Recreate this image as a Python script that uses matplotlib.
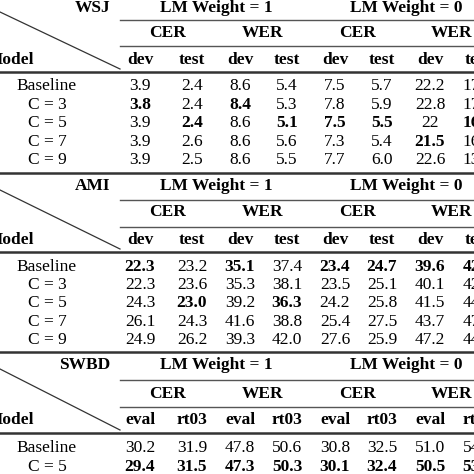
import matplotlib.pyplot as plt

plt.rcParams['font.family'] = ['Liberation Serif', 'DejaVu Serif']

models = ['Baseline', 'C = 3', 'C = 5', 'C = 7', 'C = 9']
wsj = [[3.9, 2.4, 8.6, 5.4, 7.5, 5.7, 22.2, 17.7],
       [3.8, 2.4, 8.4, 5.3, 7.8, 5.9, 22.8, 17.8],
       [3.9, 2.4, 8.6, 5.1, 7.5, 5.5, 22, 16.9],
       [3.9, 2.6, 8.6, 5.6, 7.3, 5.4, 21.5, 16.4],
       [3.9, 2.5, 8.6, 5.5, 7.7, 6.0, 22.6, 13.1]]
wsj_bold = [[0, 0, 0, 0, 0, 0, 0, 0],
            [1, 0, 1, 0, 0, 0, 0, 0],
            [0, 1, 0, 1, 1, 1, 0, 1],
            [0, 0, 0, 0, 0, 0, 1, 0],
            [0, 0, 0, 0, 0, 0, 0, 0]]
ami = [[22.3, 23.2, 35.1, 37.4, 23.4, 24.7, 39.6, 42.1],
       [22.3, 23.6, 35.3, 38.1, 23.5, 25.1, 40.1, 42.3],
       [24.3, 23.0, 39.2, 36.3, 24.2, 25.8, 41.5, 44.2],
       [26.1, 24.3, 41.6, 38.8, 25.4, 27.5, 43.7, 47.0],
       [24.9, 26.2, 39.3, 42.0, 27.6, 25.9, 47.2, 44.1]]
ami_bold = [[1, 0, 1, 0, 1, 1, 1, 1],
            [0, 0, 0, 0, 0, 0, 0, 0],
            [0, 1, 0, 1, 0, 0, 0, 0],
            [0, 0, 0, 0, 0, 0, 0, 0],
            [0, 0, 0, 0, 0, 0, 0, 0]]
swbd_models = ['Baseline', 'C = 5']
swbd = [[30.2, 31.9, 47.8, 50.6, 30.8, 32.5, 51.0, 54.2],
        [29.4, 31.5, 47.3, 50.3, 30.1, 32.4, 50.5, 53.8]]
swbd_bold = [[0] * 8, [1] * 8]

sections = [
    dict(name='WSJ', sub=['dev', 'test'], models=models, vals=wsj, bold=wsj_bold,
         y=dict(title=8, l1=20, grp=33, l2=46, hdr=60, thick=72, rows=[86, 105, 123, 142, 160], bottom=173)),
    dict(name='AMI', sub=['dev', 'test'], models=models, vals=ami, bold=ami_bold,
         y=dict(title=186, l1=200, grp=212, l2=227, hdr=240, thick=252, rows=[267, 285, 303, 322, 340], bottom=352)),
    dict(name='SWBD', sub=['eval', 'rt03'], models=swbd_models, vals=swbd, bold=swbd_bold,
         y=dict(title=365, l1=380, grp=394, l2=407, hdr=420, thick=433, rows=[448, 467], bottom=None)),
]

col_x = [140, 192, 240, 287, 335, 382, 430, 478]
grp_x = [168, 263, 358, 452]
grp_names = ['CER', 'WER', 'CER', 'WER']
lm_x = [216, 406]
lm_names = ['LM Weight = 1', 'LM Weight = 0']
fs = 12.5

fig = plt.figure(figsize=(4.74, 4.74), dpi=100)
ax = fig.add_axes([0, 0, 1, 1])
ax.set_xlim(0, 474)
ax.set_ylim(474, 0)
ax.axis('off')

for s in sections:
    y = s['y']
    ax.text(110, y['title'], s['name'], ha='right', va='center', fontsize=fs, fontweight='bold')
    for x, n in zip(lm_x, lm_names):
        ax.text(x, y['title'], n, ha='center', va='center', fontsize=fs, fontweight='bold')
    ax.plot([120, 474], [y['l1'], y['l1']], color='#555555', lw=1)
    for x, n in zip(grp_x, grp_names):
        ax.text(x, y['grp'], n, ha='center', va='center', fontsize=fs, fontweight='bold')
    ax.plot([120, 474], [y['l2'], y['l2']], color='#555555', lw=1)
    ax.text(-13, y['hdr'], 'Model', ha='left', va='center', fontsize=fs, fontweight='bold')
    for i, x in enumerate(col_x):
        ax.text(x, y['hdr'], s['sub'][i % 2], ha='center', va='center', fontsize=fs, fontweight='bold')
    ax.plot([0, 120], [y['title'] + 4, y['thick'] - 3], color='#333333', lw=0.9)
    ax.plot([0, 474], [y['thick'], y['thick']], color='#333333', lw=1.8)
    for r, ry in enumerate(y['rows']):
        ax.text(47, ry, s['models'][r], ha='center', va='center', fontsize=fs)
        for c, x in enumerate(col_x):
            v = s['vals'][r][c]
            ax.text(x, ry, str(v), ha='center', va='center', fontsize=fs,
                    fontweight='bold' if s['bold'][r][c] else 'normal')
    if y['bottom']:
        ax.plot([0, 474], [y['bottom'], y['bottom']], color='#333333', lw=1.8)

fig.savefig('out.png', dpi=100)
